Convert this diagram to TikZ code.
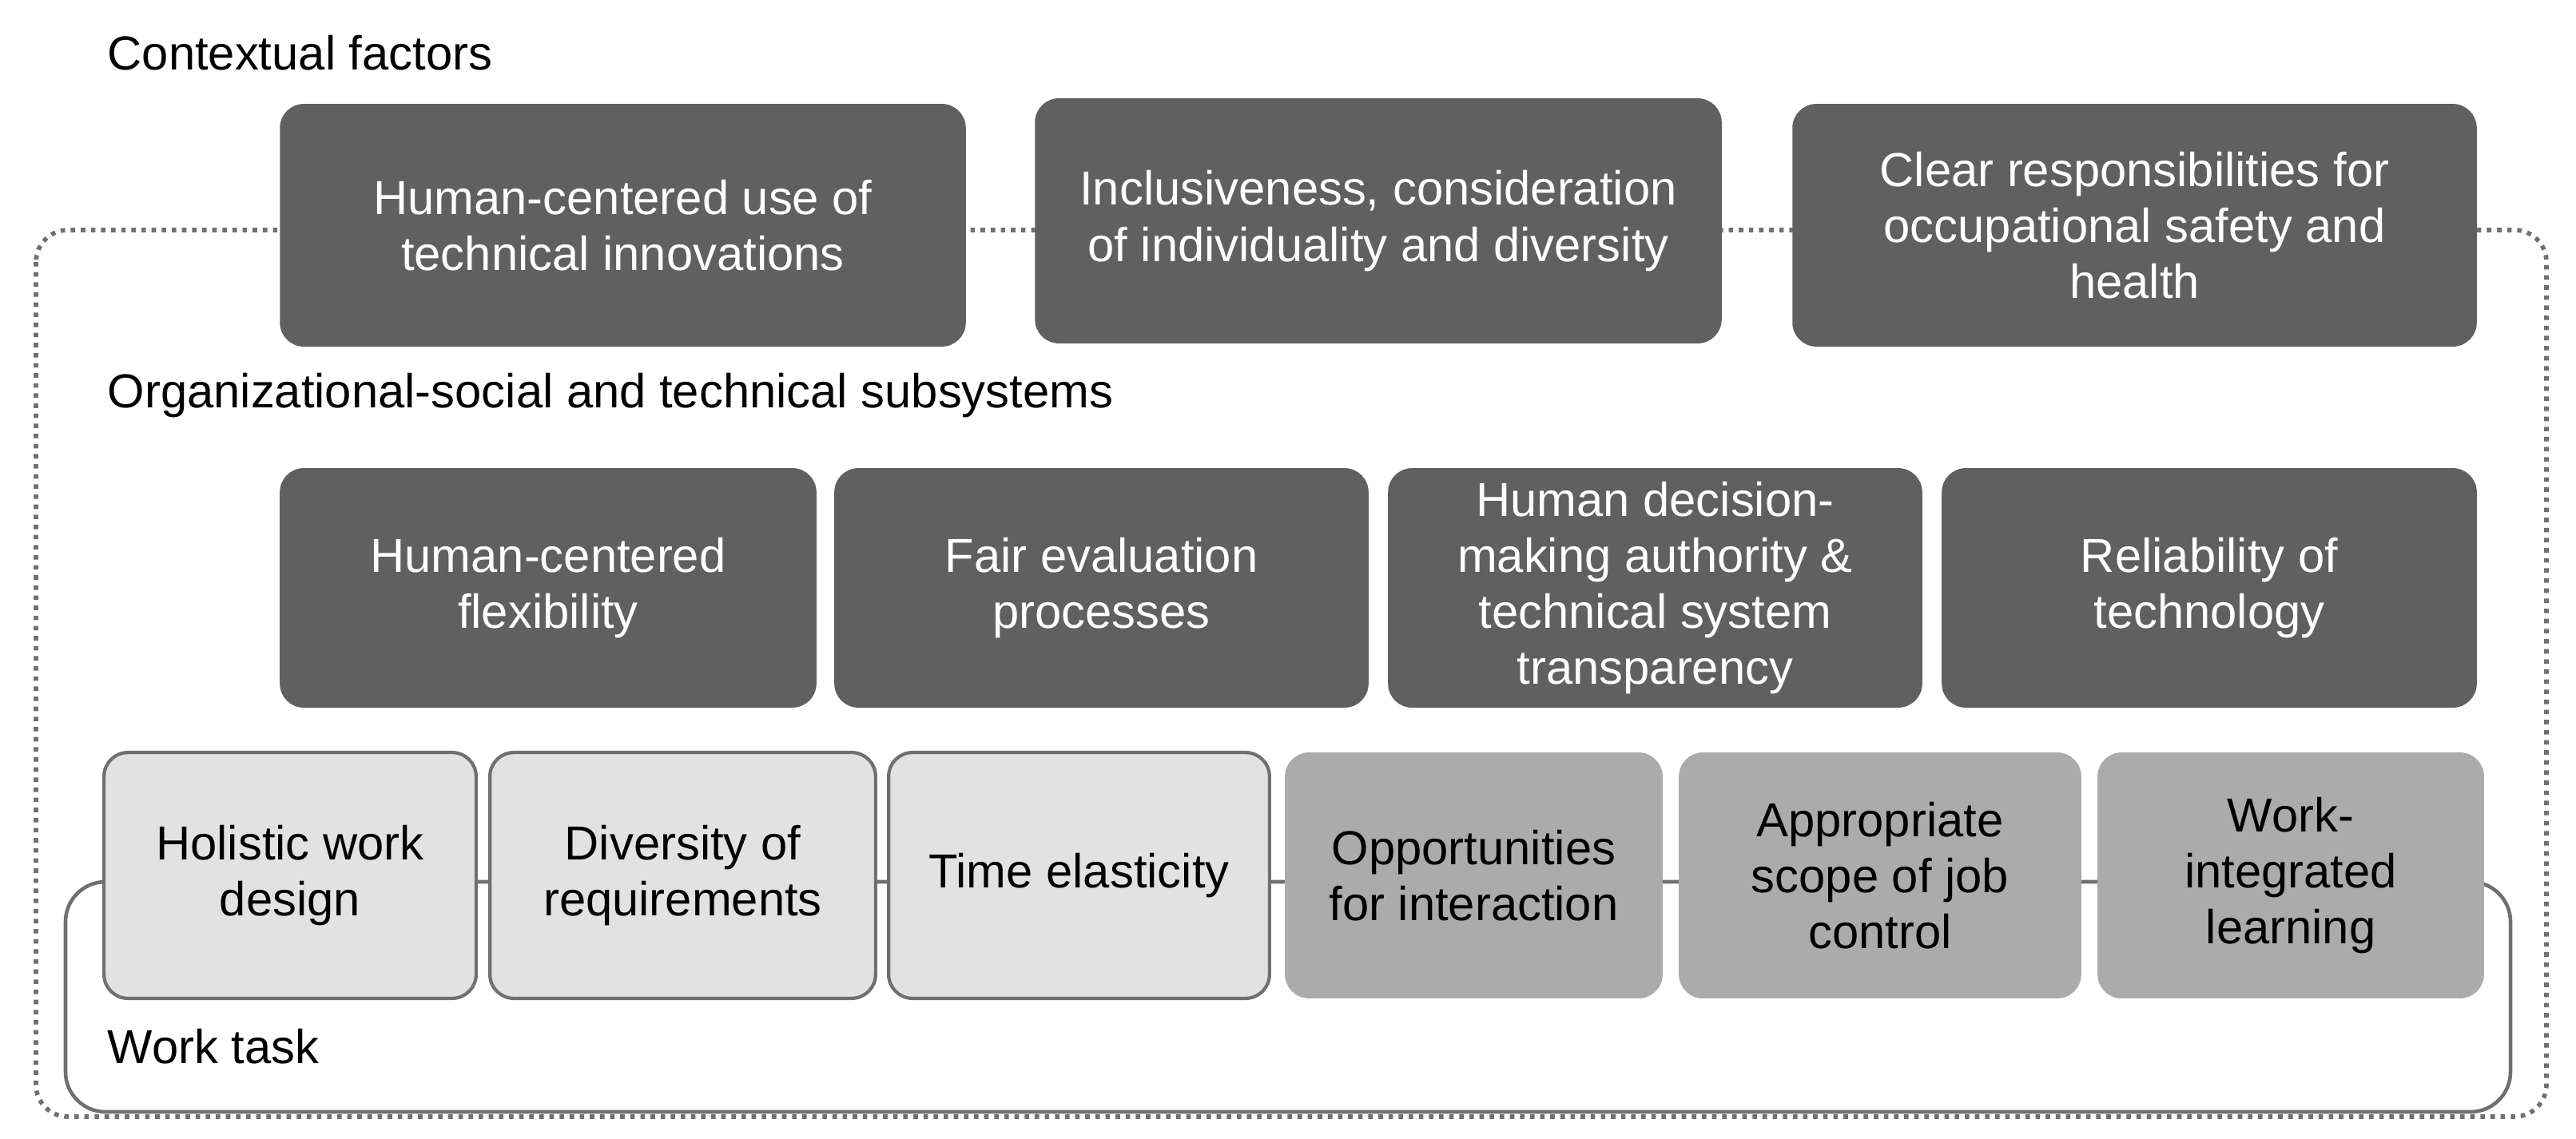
\documentclass[tikz,border=0pt]{standalone}
\usepackage{fontspec}
\setmainfont{Liberation Sans}
\definecolor{dk}{HTML}{606060}
\definecolor{lt}{HTML}{E2E2E2}
\definecolor{md}{HTML}{ABABAB}
\definecolor{ln}{HTML}{707070}
\tikzset{
 bx/.style={rounded corners=0.3cm, align=center, font=\fontsize{17}{20}\selectfont, inner sep=0pt},
 dkbox/.style={bx, fill=dk, text=white},
 ltbox/.style={bx, fill=lt, draw=ln, line width=1.2pt, text=black},
 mdbox/.style={bx, fill=md, text=black},
 lbl/.style={anchor=west, font=\fontsize{17}{20}\selectfont, inner sep=0pt}
}
\newcommand{\rbox}[5]{\node[#1, minimum width={(#4-#2)*0.01cm}, minimum height={(#5-#3)*0.01cm}] at ({(#2+#4)/200}, {-(#3+#5)/200})}
\begin{document}
\begin{tikzpicture}
\useasboundingbox (0,0) rectangle (32.24,-14.26);
\draw[ln, line width=1.6pt, dotted, rounded corners=0.4cm] (0.45,-2.88) rectangle (31.87,-13.98);
\draw[ln, line width=1.3pt, rounded corners=0.5cm] (0.82,-11.04) rectangle (31.42,-13.92);
\node[lbl] (t1) at (1.34,-0.66) {Contextual factors};
\node[lbl] (t2) at (1.34,-4.95) {Organizational-social and technical subsystems};
\node[lbl] (t3) at (1.34,-13.10) {Work task};
\rbox{dkbox}{350}{130}{1209}{434} (a1) {Human-centered use of\\technical innovations};
\rbox{dkbox}{1295}{123}{2155}{430} (a2) {Inclusiveness, consideration\\of individuality and diversity};
\rbox{dkbox}{2243}{130}{3100}{434} (a3) {Clear responsibilities for\\occupational safety and\\health};
\rbox{dkbox}{350}{586}{1022}{886} (b1) {Human-centered\\flexibility};
\rbox{dkbox}{1044}{586}{1713}{886} (b2) {Fair evaluation\\processes};
\rbox{dkbox}{1737}{586}{2406}{886} (b3) {Human decision-\\making authority \&\\technical system\\transparency};
\rbox{dkbox}{2430}{586}{3100}{886} (b4) {Reliability of\\technology};
\rbox{ltbox}{130}{942}{596}{1250} (c1) {Holistic work\\design};
\rbox{ltbox}{613}{942}{1096}{1250} (c2) {Diversity of\\requirements};
\rbox{ltbox}{1112}{942}{1589}{1250} (c3) {Time elasticity};
\rbox{mdbox}{1608}{942}{2081}{1250} (c4) {Opportunities\\for interaction};
\rbox{mdbox}{2101}{942}{2605}{1250} (c5) {Appropriate\\scope of job\\control};
\rbox{mdbox}{2625}{942}{3109}{1250} (c6) {Work-\\integrated\\learning};
\end{tikzpicture}
\end{document}
